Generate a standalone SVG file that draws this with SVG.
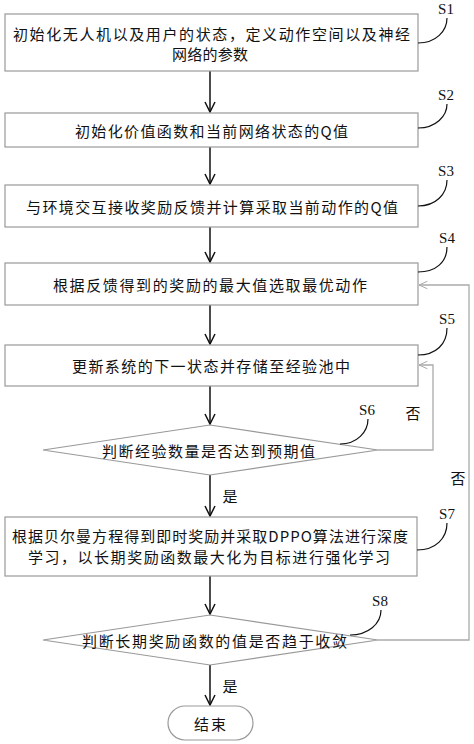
<svg xmlns="http://www.w3.org/2000/svg" width="474" height="744" viewBox="0 0 474 744">
<defs>
<style>
.box{fill:#fff;stroke:#999;stroke-width:1.2}
.t{font-family:"Noto Sans CJK SC","Liberation Sans",sans-serif;font-size:15px;fill:#111;dominant-baseline:central}
.s{font-family:"Liberation Serif",serif;font-size:15px;fill:#111;text-anchor:middle;dominant-baseline:central}
.main{stroke:#111;stroke-width:1.5;fill:none}
.loop{stroke:#aaa;stroke-width:1.3;fill:none}
.lead{stroke:#111;stroke-width:1.2;fill:none}
</style>
<marker id="ah" viewBox="0 0 12 12" refX="11" refY="6" markerWidth="12" markerHeight="12" markerUnits="userSpaceOnUse" orient="auto">
<path d="M1,1 L11,6 L1,11" fill="none" stroke="#111" stroke-width="1.5"/>
</marker>
<marker id="ahg" viewBox="0 0 12 12" refX="11" refY="6" markerWidth="10" markerHeight="10" markerUnits="userSpaceOnUse" orient="auto">
<path d="M1,1.5 L11,6 L1,10.5" fill="none" stroke="#aaa" stroke-width="1.2"/>
</marker>
</defs>
<rect width="474" height="744" fill="#fff"/>
<g id="connectors">
<line class="main" x1="210" y1="71" x2="210" y2="112" marker-end="url(#ah)"/>
<line class="main" x1="210" y1="147" x2="210" y2="184" marker-end="url(#ah)"/>
<line class="main" x1="210" y1="227" x2="210" y2="262" marker-end="url(#ah)"/>
<line class="main" x1="210" y1="305" x2="210" y2="344" marker-end="url(#ah)"/>
<line class="main" x1="210" y1="386" x2="210" y2="424" marker-end="url(#ah)"/>
<line class="main" x1="210" y1="475" x2="210" y2="516" marker-end="url(#ah)"/>
<line class="main" x1="210" y1="576" x2="210" y2="614" marker-end="url(#ah)"/>
<line class="main" x1="210" y1="665" x2="210" y2="705" marker-end="url(#ah)"/>
<polyline class="loop" points="378,450 433,450 433,365 419,365" marker-end="url(#ahg)"/>
<polyline class="loop" points="378,640 469,640 469,285 419,285" marker-end="url(#ahg)"/>
<text class="t" x="413" y="412" text-anchor="middle">否</text>
<text class="t" x="458" y="477" text-anchor="middle">否</text>
<text class="t" x="230" y="495" text-anchor="middle">是</text>
<text class="t" x="230" y="685" text-anchor="middle">是</text>
</g>
<g id="S1">
<rect class="box" x="5" y="14" width="413" height="57"/>
<text class="t" x="13" y="33" textLength="397" lengthAdjust="spacing">初始化无人机以及用户的状态，定义动作空间以及神经</text>
<text class="t" x="172" y="53" textLength="76" lengthAdjust="spacing">网络的参数</text>
<path class="lead" d="M418,43 C436,43 447,31 447,18"/>
<text class="s" x="446" y="9">S1</text>
</g>
<g id="S2">
<rect class="box" x="5" y="113" width="413" height="34"/>
<text class="t" x="75" y="130" textLength="273" lengthAdjust="spacing">初始化价值函数和当前网络状态的Q值</text>
<path class="lead" d="M418,128 C436,128 447,116 447,104"/>
<text class="s" x="446" y="95">S2</text>
</g>
<g id="S3">
<rect class="box" x="5" y="185" width="413" height="42"/>
<text class="t" x="26" y="206" textLength="372" lengthAdjust="spacing">与环境交互接收奖励反馈并计算采取当前动作的Q值</text>
<path class="lead" d="M418,206 C436,206 447,194 447,180"/>
<text class="s" x="446" y="171">S3</text>
</g>
<g id="S4">
<rect class="box" x="5" y="263" width="413" height="42"/>
<text class="t" x="53" y="284" textLength="314" lengthAdjust="spacing">根据反馈得到的奖励的最大值选取最优动作</text>
<path class="lead" d="M418,272 C436,272 447,262 447,247"/>
<text class="s" x="447" y="238">S4</text>
</g>
<g id="S5">
<rect class="box" x="5" y="345" width="413" height="41"/>
<text class="t" x="72" y="365" textLength="278" lengthAdjust="spacing">更新系统的下一状态并存储至经验池中</text>
<path class="lead" d="M418,355 C436,355 447,344 447,328"/>
<text class="s" x="447" y="319">S5</text>
</g>
<g id="S6">
<polygon class="box" points="210,425 378,450 210,475 43,450"/>
<text class="t" x="102" y="450" textLength="213" lengthAdjust="spacing">判断经验数量是否达到预期值</text>
<path class="lead" d="M340,444 C357,444 368,432 368,419"/>
<text class="s" x="367" y="410">S6</text>
</g>
<g id="S7">
<rect class="box" x="5" y="517" width="412" height="59"/>
<text class="t" x="12" y="535" textLength="396" lengthAdjust="spacing">根据贝尔曼方程得到即时奖励并采取DPPO算法进行深度</text>
<text class="t" x="28" y="556" textLength="362" lengthAdjust="spacing">学习，以长期奖励函数最大化为目标进行强化学习</text>
<path class="lead" d="M417,550 C436,550 447,538 447,523"/>
<text class="s" x="447" y="514">S7</text>
</g>
<g id="S8">
<polygon class="box" points="210,615 378,640 210,665 43,640"/>
<text class="t" x="82" y="640" textLength="265" lengthAdjust="spacing">判断长期奖励函数的值是否趋于收敛</text>
<path class="lead" d="M350,635 C368,635 381,624 381,610"/>
<text class="s" x="380" y="601">S8</text>
</g>
<g id="end">
<rect class="box" x="168" y="706" width="85" height="34" rx="17" ry="17"/>
<text class="t" x="194" y="723" textLength="32" lengthAdjust="spacing">结束</text>
</g>
</svg>
